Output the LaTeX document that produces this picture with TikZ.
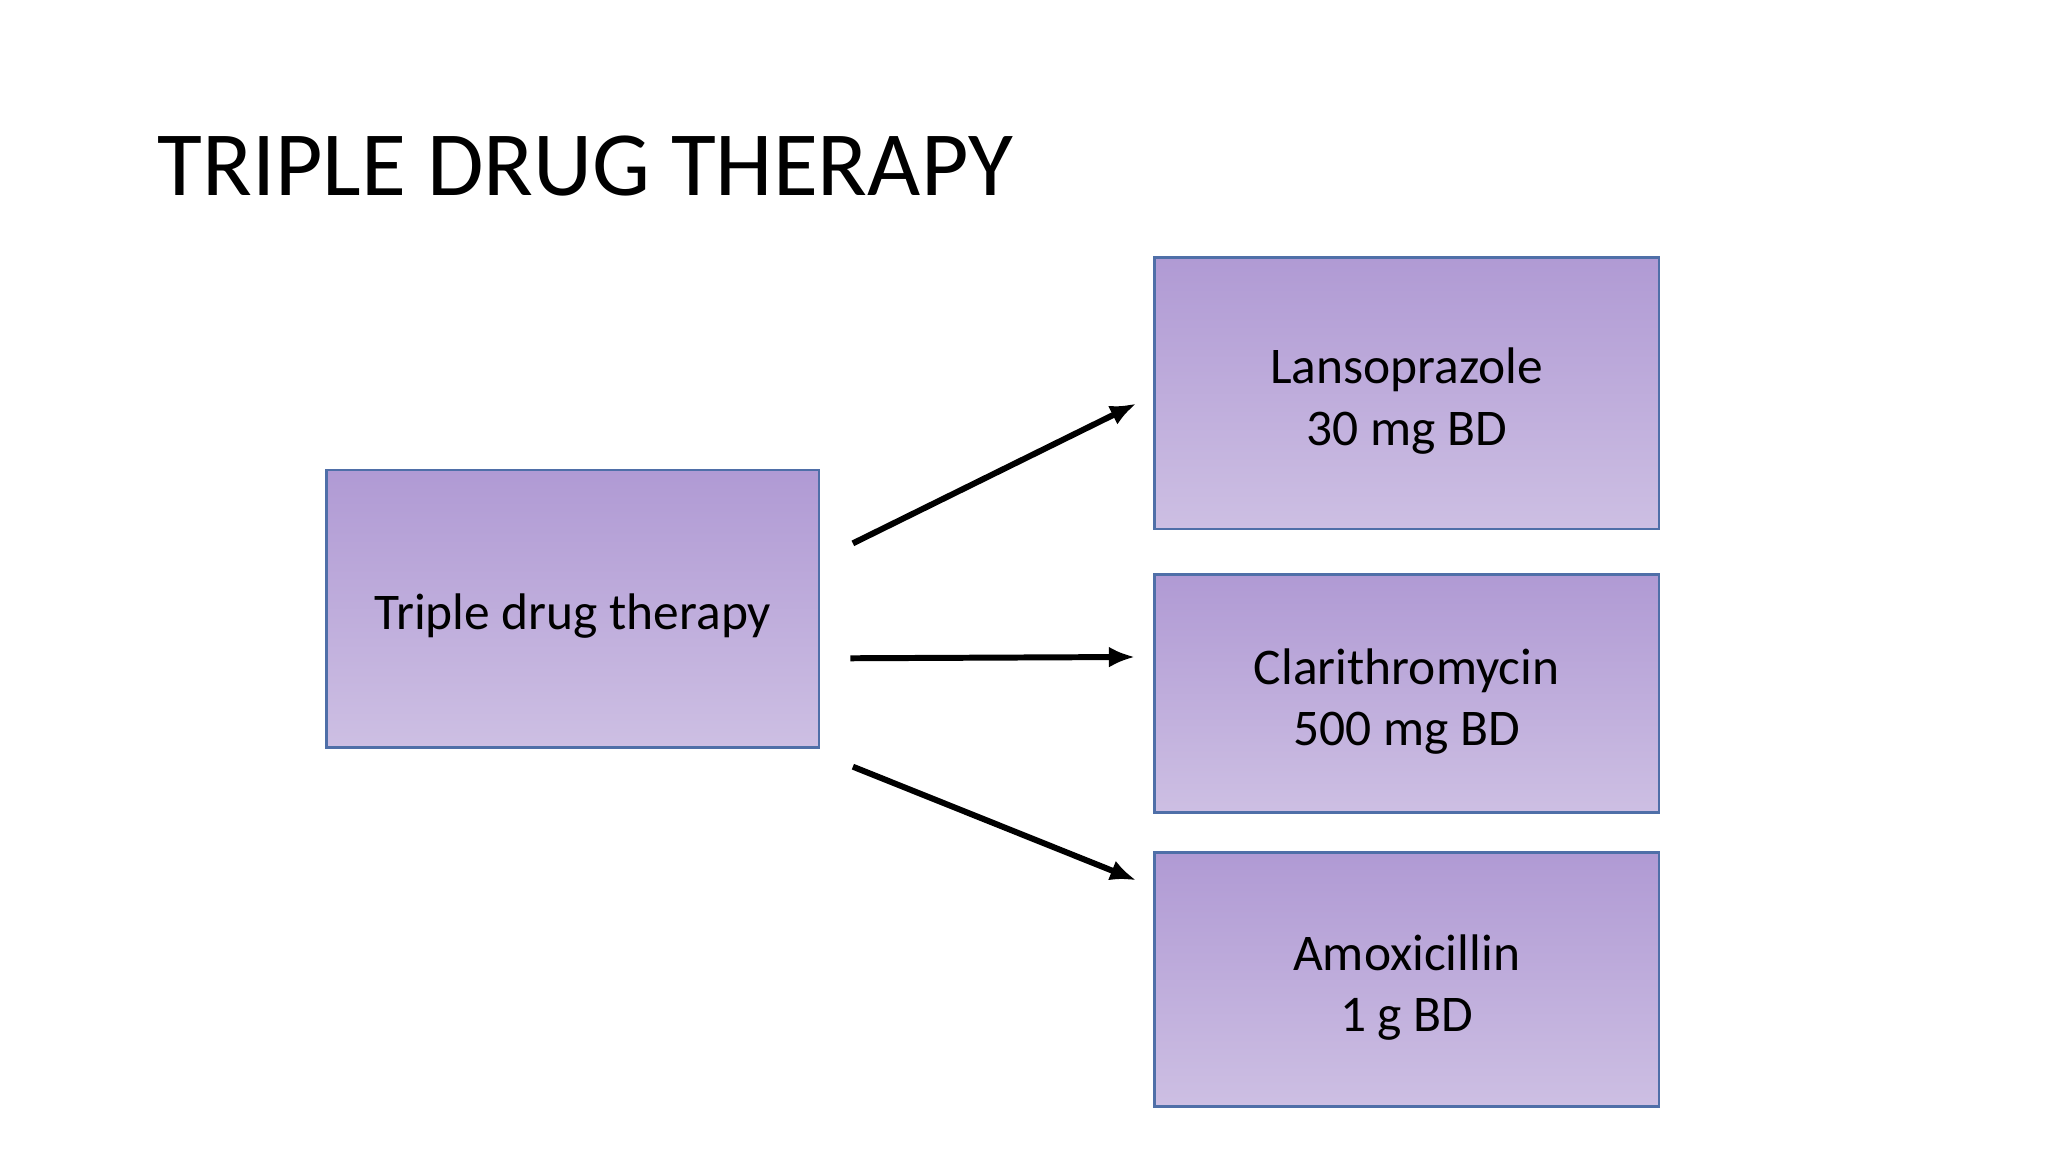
\documentclass[tikz,border=0pt]{standalone}
\usepackage{fontspec}
\setmainfont{Carlito}
\usetikzlibrary{arrows.meta}
\definecolor{boxtop}{HTML}{B09AD4}
\definecolor{boxbot}{HTML}{CDBFE3}
\definecolor{boxline}{HTML}{4F6FA8}
\tikzset{
  drugbox/.style={draw=boxline, line width=0.6pt, top color=boxtop, bottom color=boxbot, align=center, font=\fontsize{11.2pt}{13.4pt}\selectfont, inner sep=0pt},
  arr/.style={line width=1.3pt, -{Latex[length=2mm,width=1.6mm]}}
}
\begin{document}
\begin{tikzpicture}[x=0.01cm,y=-0.01cm]
\useasboundingbox (0,0) rectangle (1568,882);
\node[anchor=base west, font=\fontsize{20pt}{24pt}\selectfont, inner sep=0pt] (title) at (120,150) {TRIPLE DRUG THERAPY};
\node[drugbox, minimum width=3.77cm, minimum height=2.12cm] (main) at (438.5,466) {};
\node at (438.5,472) [font=\fontsize{11.2pt}{13.4pt}\selectfont] (maint) {Triple drug therapy};
\node[drugbox, minimum width=3.86cm, minimum height=2.08cm] (lan) at (1077,301) {};
\node[align=center, font=\fontsize{11.2pt}{13.4pt}\selectfont] (lant) at (1077,307) {Lansoprazole\\30 mg BD};
\node[drugbox, minimum width=3.86cm, minimum height=1.82cm] (cla) at (1077,531) {};
\node[align=center, font=\fontsize{11.2pt}{13.4pt}\selectfont] (clat) at (1077,537) {Clarithromycin\\500 mg BD};
\node[drugbox, minimum width=3.86cm, minimum height=1.94cm] (amo) at (1077,750) {};
\node[align=center, font=\fontsize{11.2pt}{13.4pt}\selectfont] (amot) at (1077,756) {Amoxicillin\\1 g BD};
\coordinate (s1) at (653,416); \coordinate (e1) at (870,309);
\coordinate (s2) at (651,504); \coordinate (e2) at (869,503);
\coordinate (s3) at (653,587); \coordinate (e3) at (870,674);
\draw[arr] (s1) -- (e1);
\draw[arr] (s2) -- (e2);
\draw[arr] (s3) -- (e3);
\end{tikzpicture}
\end{document}
